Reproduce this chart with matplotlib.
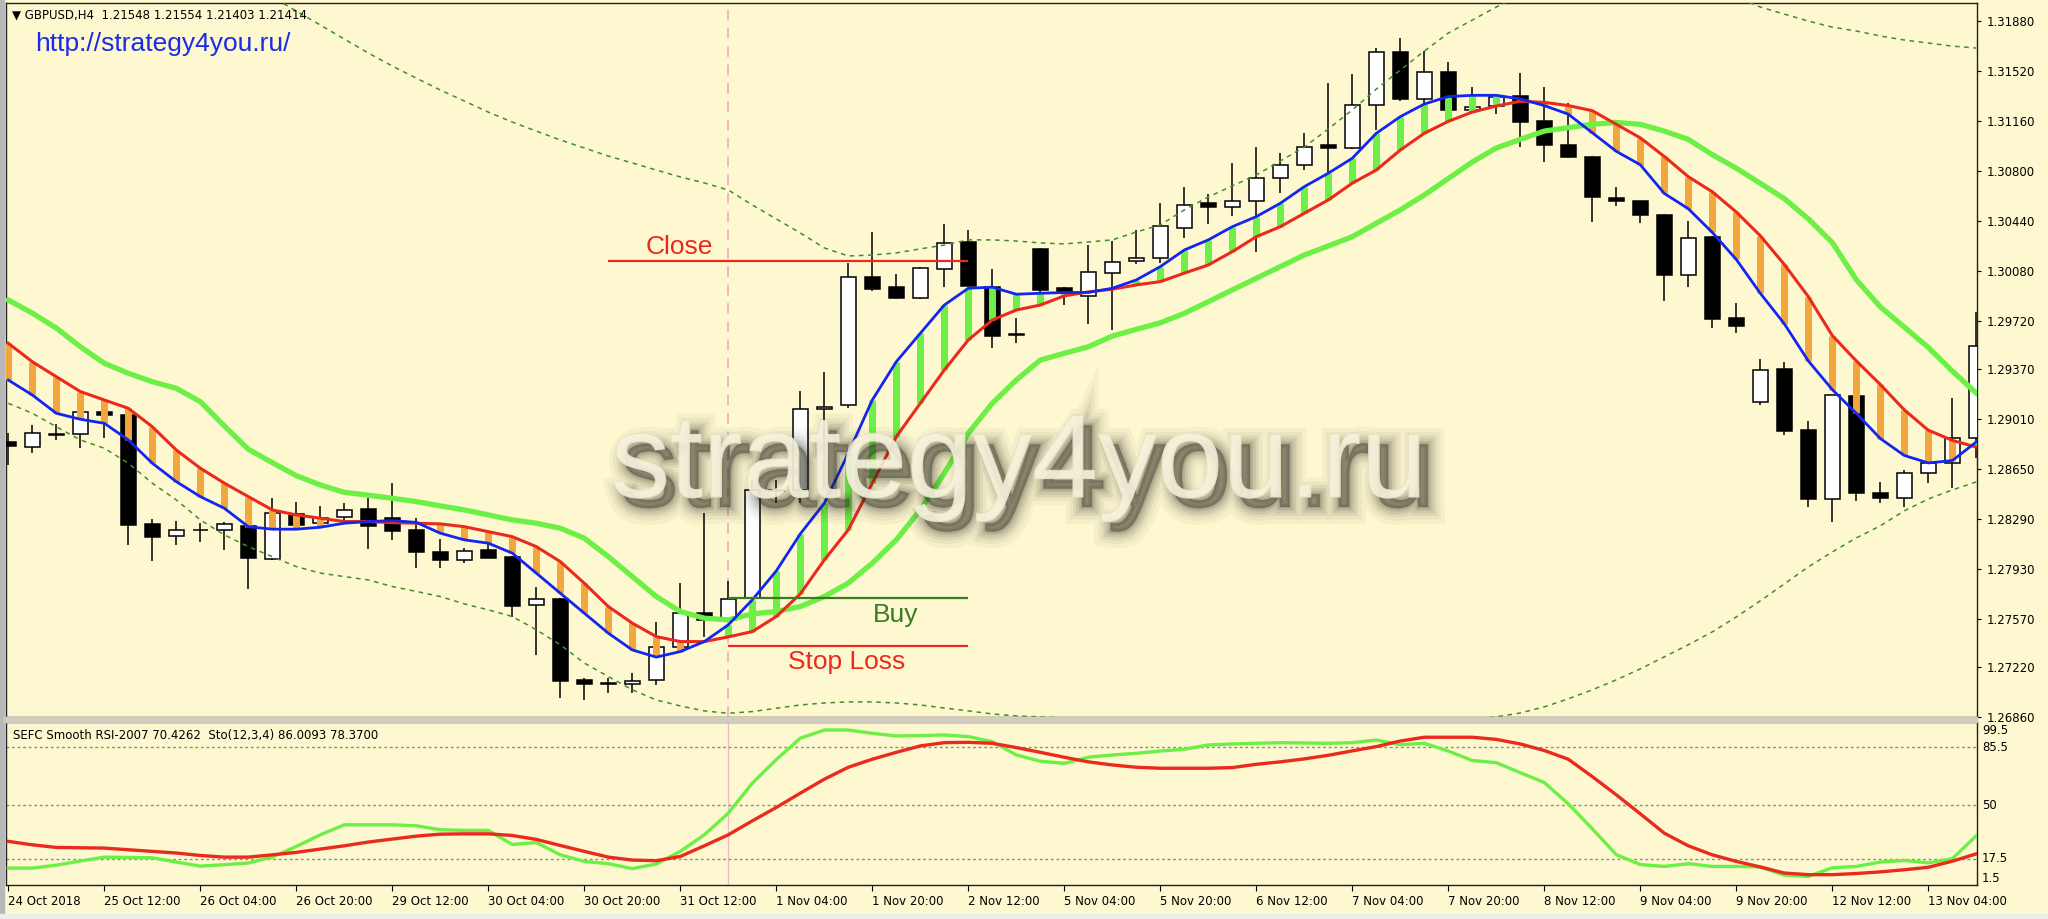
import numpy as np
import matplotlib
matplotlib.use('Agg')
import matplotlib.pyplot as plt
from matplotlib.patches import PathPatch, Rectangle
from matplotlib.textpath import TextPath
from matplotlib.font_manager import FontProperties
from matplotlib.transforms import Affine2D, IdentityTransform

plt.rcParams['font.family'] = ['DejaVu Sans']

# GBPUSD H4 candles (open / high / low / close)
opens = [
    1.28844, 1.28810, 1.28902, 1.28900, 1.29063, 1.29039, 1.28253, 1.28166, 1.28208, 1.28210,
    1.28238, 1.27998, 1.28323, 1.28258, 1.28301, 1.28359, 1.28294, 1.28210, 1.28053, 1.27993,
    1.28065, 1.28013, 1.27666, 1.27712, 1.27128, 1.27102, 1.27099, 1.27128, 1.27368, 1.27613,
    1.27560, 1.27721, 1.28494, 1.28498, 1.29080, 1.29111, 1.30032, 1.29961, 1.29881, 1.30090,
    1.30284, 1.29961, 1.29623, 1.30234, 1.29954, 1.29897, 1.30066, 1.30149, 1.30173, 1.30391,
    1.30566, 1.30541, 1.30585, 1.30746, 1.30842, 1.30986, 1.30962, 1.31275, 1.31655, 1.31318,
    1.31515, 1.31238, 1.31269, 1.31338, 1.31160, 1.30990, 1.30900, 1.30605, 1.30582, 1.30485,
    1.30051, 1.30324, 1.29739, 1.29132, 1.29368, 1.28929, 1.28430, 1.29173, 1.28479, 1.28443,
    1.28621, 1.28694, 1.28874]
highs = [
    1.28909, 1.28967, 1.28972, 1.29068, 1.29068, 1.29075, 1.28287, 1.28277, 1.28262, 1.28269,
    1.28246, 1.28441, 1.28414, 1.28385, 1.28407, 1.28441, 1.28547, 1.28294, 1.28142, 1.28078,
    1.28116, 1.28022, 1.27796, 1.27719, 1.27144, 1.27144, 1.27176, 1.27548, 1.27829, 1.28330,
    1.27838, 1.28570, 1.28570, 1.29214, 1.29351, 1.30133, 1.30361, 1.30057, 1.30109, 1.30417,
    1.30373, 1.30090, 1.29736, 1.30240, 1.29960, 1.30265, 1.30296, 1.30373, 1.30566, 1.30686,
    1.30636, 1.30859, 1.30970, 1.30930, 1.31075, 1.31436, 1.31499, 1.31684, 1.31756, 1.31667,
    1.31583, 1.31405, 1.31343, 1.31507, 1.31405, 1.31287, 1.30904, 1.30680, 1.30586, 1.30489,
    1.30441, 1.30328, 1.29849, 1.29441, 1.29421, 1.28996, 1.29183, 1.29176, 1.28556, 1.28645,
    1.28698, 1.29161, 1.29779]
lows = [
    1.28678, 1.28763, 1.28859, 1.28799, 1.28871, 1.28101, 1.27986, 1.28101, 1.28125, 1.28065,
    1.27784, 1.27993, 1.28233, 1.28251, 1.28282, 1.28073, 1.28137, 1.27933, 1.27933, 1.27969,
    1.28005, 1.27580, 1.27308, 1.26996, 1.26983, 1.27036, 1.27032, 1.27092, 1.27344, 1.27440,
    1.27557, 1.27705, 1.28402, 1.28406, 1.28503, 1.29092, 1.29936, 1.29877, 1.29874, 1.29965,
    1.29966, 1.29520, 1.29561, 1.29928, 1.29832, 1.29695, 1.29652, 1.30127, 1.30133, 1.30313,
    1.30420, 1.30474, 1.30212, 1.30638, 1.30806, 1.30794, 1.30959, 1.31095, 1.31306, 1.31275,
    1.31235, 1.31233, 1.31210, 1.30970, 1.30867, 1.30893, 1.30434, 1.30547, 1.30424, 1.29863,
    1.29961, 1.29668, 1.29630, 1.29108, 1.28892, 1.28375, 1.28267, 1.28417, 1.28401, 1.28375,
    1.28551, 1.28515, 1.28725]
closes = [
    1.28816, 1.28907, 1.28895, 1.29063, 1.29039, 1.28246, 1.28161, 1.28210, 1.28210, 1.28251,
    1.28010, 1.28330, 1.28246, 1.28298, 1.28354, 1.28238, 1.28202, 1.28053, 1.27993, 1.28060,
    1.28010, 1.27661, 1.27710, 1.27123, 1.27097, 1.27099, 1.27123, 1.27364, 1.27613, 1.27560,
    1.27710, 1.28498, 1.28498, 1.29080, 1.29099, 1.30032, 1.29946, 1.29881, 1.30097, 1.30281,
    1.29970, 1.29609, 1.29618, 1.29941, 1.29928, 1.30069, 1.30140, 1.30173, 1.30402, 1.30554,
    1.30541, 1.30585, 1.30746, 1.30842, 1.30974, 1.30962, 1.31275, 1.31655, 1.31316, 1.31515,
    1.31238, 1.31260, 1.31336, 1.31149, 1.30985, 1.30897, 1.30612, 1.30580, 1.30483, 1.30051,
    1.30319, 1.29734, 1.29678, 1.29363, 1.28922, 1.28430, 1.29180, 1.28474, 1.28443, 1.28621,
    1.28694, 1.28874, 1.29535]

# moving averages (blue fast, red middle, green slow)
fast_ma = [
    1.29291, 1.29183, 1.29051, 1.29008, 1.28979, 1.28859, 1.28691, 1.28558, 1.28450, 1.28366,
    1.28233, 1.28215, 1.28215, 1.28229, 1.28258, 1.28270, 1.28277, 1.28264, 1.28186, 1.28138,
    1.28114, 1.28042, 1.27898, 1.27753, 1.27609, 1.27465, 1.27344, 1.27292, 1.27332, 1.27404,
    1.27525, 1.27705, 1.27914, 1.28181, 1.28402, 1.28763, 1.29147, 1.29423, 1.29628, 1.29832,
    1.29953, 1.29961, 1.29910, 1.29917, 1.29922, 1.29923, 1.29953, 1.30013, 1.30109, 1.30229,
    1.30302, 1.30397, 1.30470, 1.30566, 1.30686, 1.30783, 1.30891, 1.31071, 1.31191, 1.31282,
    1.31336, 1.31345, 1.31345, 1.31319, 1.31271, 1.31209, 1.31075, 1.30941, 1.30844, 1.30637,
    1.30527, 1.30356, 1.30161, 1.29917, 1.29697, 1.29429, 1.29222, 1.29051, 1.28869, 1.28747,
    1.28693, 1.28710, 1.28844]
mid_ma = [
    1.29556, 1.29423, 1.29315, 1.29208, 1.29147, 1.29087, 1.28954, 1.28786, 1.28655, 1.28547,
    1.28450, 1.28354, 1.28318, 1.28294, 1.28270, 1.28270, 1.28262, 1.28258, 1.28253, 1.28233,
    1.28197, 1.28161, 1.28089, 1.27981, 1.27825, 1.27657, 1.27537, 1.27440, 1.27404, 1.27404,
    1.27438, 1.27476, 1.27585, 1.27748, 1.27993, 1.28210, 1.28547, 1.28882, 1.29123, 1.29363,
    1.29580, 1.29724, 1.29796, 1.29832, 1.29898, 1.29927, 1.29946, 1.29977, 1.30001, 1.30062,
    1.30121, 1.30217, 1.30325, 1.30397, 1.30494, 1.30590, 1.30711, 1.30806, 1.30950, 1.31071,
    1.31157, 1.31224, 1.31268, 1.31302, 1.31294, 1.31271, 1.31234, 1.31136, 1.31038, 1.30904,
    1.30758, 1.30649, 1.30503, 1.30332, 1.30125, 1.29893, 1.29612, 1.29429, 1.29259, 1.29076,
    1.28929, 1.28856, 1.28807]
slow_ma = [
    1.29868, 1.29774, 1.29666, 1.29531, 1.29412, 1.29340, 1.29279, 1.29231, 1.29135, 1.28960,
    1.28792, 1.28695, 1.28601, 1.28534, 1.28481, 1.28460, 1.28438, 1.28414, 1.28383, 1.28354,
    1.28318, 1.28282, 1.28258, 1.28222, 1.28150, 1.28017, 1.27873, 1.27729, 1.27621, 1.27573,
    1.27561, 1.27604, 1.27621, 1.27657, 1.27729, 1.27826, 1.27970, 1.28138, 1.28354, 1.28619,
    1.28907, 1.29123, 1.29291, 1.29435, 1.29484, 1.29531, 1.29608, 1.29657, 1.29704, 1.29772,
    1.29856, 1.29941, 1.30025, 1.30109, 1.30193, 1.30258, 1.30325, 1.30422, 1.30518, 1.30626,
    1.30745, 1.30864, 1.30965, 1.31027, 1.31087, 1.31112, 1.31136, 1.31149, 1.31136, 1.31087,
    1.31027, 1.30917, 1.30819, 1.30710, 1.30600, 1.30454, 1.30283, 1.30015, 1.29819, 1.29673,
    1.29526, 1.29356, 1.29197]

# envelope bands (dotted)
band_up = [
    1.32537, 1.32494, 1.32450, 1.32407, 1.32364, 1.32321, 1.32277, 1.32234, 1.32191, 1.32140,
    1.32097, 1.32054, 1.31953, 1.31852, 1.31751, 1.31650, 1.31556, 1.31469, 1.31383, 1.31304,
    1.31224, 1.31152, 1.31087, 1.31023, 1.30965, 1.30907, 1.30857, 1.30806, 1.30756, 1.30713,
    1.30662, 1.30554, 1.30453, 1.30352, 1.30244, 1.30186, 1.30193, 1.30208, 1.30237, 1.30265,
    1.30302, 1.30302, 1.30294, 1.30280, 1.30273, 1.30287, 1.30302, 1.30359, 1.30410, 1.30518,
    1.30612, 1.30691, 1.30770, 1.30871, 1.30972, 1.31102, 1.31239, 1.31390, 1.31527, 1.31664,
    1.31794, 1.31888, 1.31982, 1.32068, 1.32140, 1.32212, 1.32263, 1.32292, 1.32306, 1.32292,
    1.32249, 1.32176, 1.32054, 1.31982, 1.31931, 1.31881, 1.31837, 1.31809, 1.31773, 1.31744,
    1.31722, 1.31700, 1.31686]
band_dn = [
    1.29123, 1.29051, 1.28954, 1.28859, 1.28799, 1.28691, 1.28547, 1.28426, 1.28282, 1.28174,
    1.28089, 1.28017, 1.27945, 1.27898, 1.27873, 1.27849, 1.27801, 1.27766, 1.27729, 1.27676,
    1.27633, 1.27585, 1.27489, 1.27381, 1.27249, 1.27152, 1.27056, 1.26983, 1.26940, 1.26904,
    1.26887, 1.26899, 1.26923, 1.26947, 1.26961, 1.26969, 1.26969, 1.26961, 1.26947, 1.26925,
    1.26904, 1.26882, 1.26868, 1.26861, 1.26853, 1.26846, 1.26839, 1.26832, 1.26825, 1.26818,
    1.26810, 1.26803, 1.26796, 1.26796, 1.26796, 1.26803, 1.26810, 1.26818, 1.26825, 1.26832,
    1.26839, 1.26846, 1.26861, 1.26889, 1.26933, 1.26991, 1.27056, 1.27128, 1.27207, 1.27294,
    1.27381, 1.27474, 1.27582, 1.27698, 1.27820, 1.27943, 1.28051, 1.28152, 1.28239, 1.28347,
    1.28433, 1.28498, 1.28556]

# lower window: SEFC smooth RSI (green) and stochastic (red)
rsi_line = [
    11.8, 11.8, 13.6, 16.1, 18.5, 18.3, 18.1, 15.5, 13.0, 13.9,
    14.9, 18.5, 25.0, 32.1, 38.2, 38.2, 38.2, 37.6, 35.2, 34.8,
    34.8, 26.2, 27.4, 19.9, 15.9, 14.5, 11.5, 14.3, 22.0, 32.1,
    45.3, 63.6, 78.0, 91.0, 96.0, 96.0, 94.0, 92.4, 92.6, 93.0,
    92.0, 88.9, 80.8, 77.0, 75.7, 79.4, 80.8, 81.8, 83.2, 84.3,
    86.9, 87.5, 87.9, 88.3, 88.1, 87.9, 88.3, 89.9, 87.1, 87.9,
    83.2, 77.4, 76.1, 70.0, 64.0, 51.0, 35.8, 20.0, 14.0, 12.8,
    14.5, 12.8, 12.8, 12.5, 7.5, 6.7, 12.0, 12.8, 15.5, 16.5,
    15.0, 17.5, 31.5]
sto_line = [
    28.1, 26.0, 24.4, 24.2, 24.0, 23.0, 22.0, 21.0, 19.5, 18.5,
    18.5, 19.9, 21.4, 23.4, 25.4, 27.7, 29.5, 31.3, 32.5, 32.7,
    32.7, 31.7, 29.3, 25.6, 22.0, 18.5, 16.7, 16.3, 18.9, 25.4,
    32.1, 40.6, 48.8, 57.5, 66.0, 73.3, 78.2, 82.4, 86.3, 88.3,
    88.5, 87.9, 85.3, 82.4, 79.4, 76.6, 74.7, 73.3, 72.7, 72.7,
    72.7, 73.1, 75.1, 76.6, 78.4, 80.6, 83.3, 85.9, 89.3, 91.6,
    91.6, 91.6, 90.3, 87.5, 83.5, 78.2, 67.6, 56.5, 44.9, 33.1,
    25.4, 19.9, 15.9, 12.5, 8.8, 7.8, 7.8, 8.5, 9.5, 10.8,
    12.3, 16.0, 20.5]

price_ticks = [1.31880, 1.31520, 1.31160, 1.30800, 1.30440, 1.30080, 1.29720, 1.29370,
               1.29010, 1.28650, 1.28290, 1.27930, 1.27570, 1.27220, 1.26860]
sub_levels = [99.5, 85.5, 50, 17.5, 1.5]
sub_level_text = ['99.5', '85.5', '50', '17.5', '1.5']
date_labels = ['24 Oct 2018', '25 Oct 12:00', '26 Oct 04:00', '26 Oct 20:00', '29 Oct 12:00',
               '30 Oct 04:00', '30 Oct 20:00', '31 Oct 12:00', '1 Nov 04:00', '1 Nov 20:00',
               '2 Nov 12:00', '5 Nov 04:00', '5 Nov 20:00', '6 Nov 12:00', '7 Nov 04:00',
               '7 Nov 20:00', '8 Nov 12:00', '9 Nov 04:00', '9 Nov 20:00', '12 Nov 12:00',
               '13 Nov 04:00']
close_level = 1.30150
buy_level = 1.27717
stop_level = 1.27369
signal_bar = 30

BG = '#fef8d0'
RED = '#ea2a1c'
LIME = '#6cf046'
W, H = 2048, 919

fig = plt.figure(figsize=(W / 100, H / 100), dpi=100, facecolor=BG)
ax = fig.add_axes([6 / W, 1 - 717 / H, (1977 - 6) / W, (717 - 3) / H])
ax2 = fig.add_axes([6 / W, 1 - 885 / H, (1977 - 6) / W, (885 - 722) / H], sharex=ax)
for a in (ax, ax2):
    a.set_facecolor(BG)
    for sp in a.spines.values():
        sp.set_color('#202020')
        sp.set_linewidth(1)

x = np.arange(len(opens))
o, h, l, c = map(np.array, (opens, highs, lows, closes))
bull = c >= o
lo = np.minimum(o, c)
ht = np.maximum(np.abs(c - o), 0.00004)

# candles
ax.vlines(x, l, h, color='black', lw=1.1, zorder=2)
ax.bar(x[bull], ht[bull], bottom=lo[bull], width=0.63, facecolor='white',
       edgecolor='black', linewidth=1.1, zorder=3)
ax.bar(x[~bull], ht[~bull], bottom=lo[~bull], width=0.63, facecolor='black',
       edgecolor='black', linewidth=1.1, zorder=3)

# histogram between fast and middle MA
fast = np.array(fast_ma)
mid = np.array(mid_ma)
cols = np.where(fast >= mid, LIME, '#f2a63c')
ax.vlines(x, fast, mid, colors=cols, lw=5, zorder=4)

ax.plot(x, band_up, color='#3f8f2f', lw=1.1, ls=(0, (3, 3)), zorder=5)
ax.plot(x, band_dn, color='#3f8f2f', lw=1.1, ls=(0, (3, 3)), zorder=5)
ax.plot(x, slow_ma, color=LIME, lw=3.8, zorder=5)
ax.plot(x, mid_ma, color=RED, lw=2.2, zorder=6)
ax.plot(x, fast_ma, color='#1226f0', lw=2.0, zorder=7)

# trade levels
ax.hlines(close_level, 25, 40, color=RED, lw=1.6, zorder=8)
ax.hlines(buy_level, signal_bar, 40, color='#3b7a22', lw=1.6, zorder=8)
ax.hlines(stop_level, signal_bar, 40, color=RED, lw=1.6, zorder=8)
lab = dict(family='Liberation Sans', fontsize=19, ha='center', va='center', zorder=9)
ax.text(27.95, 1.30250, 'Close', color=RED, **lab)
ax.text(36.99, 1.27596, 'Buy', color='#3b7a22', **lab)
ax.text(34.95, 1.27258, 'Stop Loss', color=RED, **lab)

ax.axvline(signal_bar, color='#f2a2c2', lw=1.1, ls=(0, (7, 5)), zorder=1)
ax2.axvline(signal_bar, color='#f2b8cc', lw=1.0, zorder=1)

ax.set_xlim(-0.096, 82.03)
ax.set_ylim(1.26861, 1.32011)
ax.yaxis.tick_right()
ax.set_yticks(price_ticks)
ax.set_yticklabels([f'{v:.5f}' for v in price_ticks])
ax.tick_params(axis='y', direction='out', length=3, width=0.8, pad=4, labelsize=8.5, colors='black')
ax.tick_params(axis='x', bottom=False, labelbottom=False)

# lower window
ax2.set_ylim(1.5, 100.9)
ax2.set_yticks([])
for lv in [85.5, 50, 17.5]:
    ax2.axhline(lv, color='#8c8c8c', lw=1, ls=(0, (2, 2)), zorder=1)
ax2.plot(x, rsi_line, color=LIME, lw=2.4, zorder=3)
ax2.plot(x, sto_line, color=RED, lw=2.4, zorder=4)
vas = ['top', 'center', 'center', 'center', 'bottom']
for v, s, va in zip(sub_levels, sub_level_text, vas):
    ax2.text(1.0025, v, s, transform=ax2.get_yaxis_transform(), ha='left', va=va,
             fontsize=8.5, clip_on=False)
ax2.set_xticks(range(0, 4 * len(date_labels), 4))
ax2.set_xticklabels(date_labels, ha='left', fontsize=8.5)
ax2.tick_params(axis='x', direction='out', length=4, width=0.8, pad=3.5)

# window chrome
fig.patches.append(Rectangle((0, 0), 4 / W, 1, transform=fig.transFigure, color='#b8b8b8', zorder=0))
fig.patches.append(Rectangle((4 / W, 1 - 722 / H), 1973 / W, 5 / H, transform=fig.transFigure,
                             color='#d0ccc0', zorder=0))
fig.patches.append(Rectangle((0, 0), 1, 5 / H, transform=fig.transFigure, color='#ececec', zorder=0))

# header texts
fig.text(12 / W, 1 - 15 / H, '\u25bc GBPUSD,H4  1.21548 1.21554 1.21403 1.21414', fontsize=8.5,
         va='center', color='black')
fig.text(35 / W, 1 - 44 / H, 'http://strategy4you.ru/', fontsize=19, color='#1c2be6',
         family='Liberation Sans', va='center')
fig.text(13 / W, 1 - 735 / H, 'SEFC Smooth RSI-2007 70.4262  Sto(12,3,4) 86.0093 78.3700',
         fontsize=8.5, va='center', color='black')

# watermark with soft shadow
tp = TextPath((0, 0), 'strategy4you.ru', size=100, prop=FontProperties(family='Liberation Sans'))
ext = tp.get_extents()
s = 805 / ext.width
tr = Affine2D().scale(s).translate(614 - ext.x0 * s, H - 497)
wm = tr.transform_path(tp)
shadow = Affine2D().translate(9, -10).transform_path(wm)
for lw, a in [(24, 0.04), (18, 0.05), (13, 0.07), (9, 0.09), (5, 0.11), (2, 0.14)]:
    fig.add_artist(PathPatch(shadow, transform=IdentityTransform(), fc='#2b2b20', ec='#2b2b20',
                             lw=lw, alpha=a, zorder=20))
fig.add_artist(PathPatch(wm, transform=IdentityTransform(), fc='#f7f3de', ec='#e8e2c4',
                         lw=0.8, alpha=0.9, zorder=21))

fig.savefig('out.png', dpi=100, facecolor=BG)
